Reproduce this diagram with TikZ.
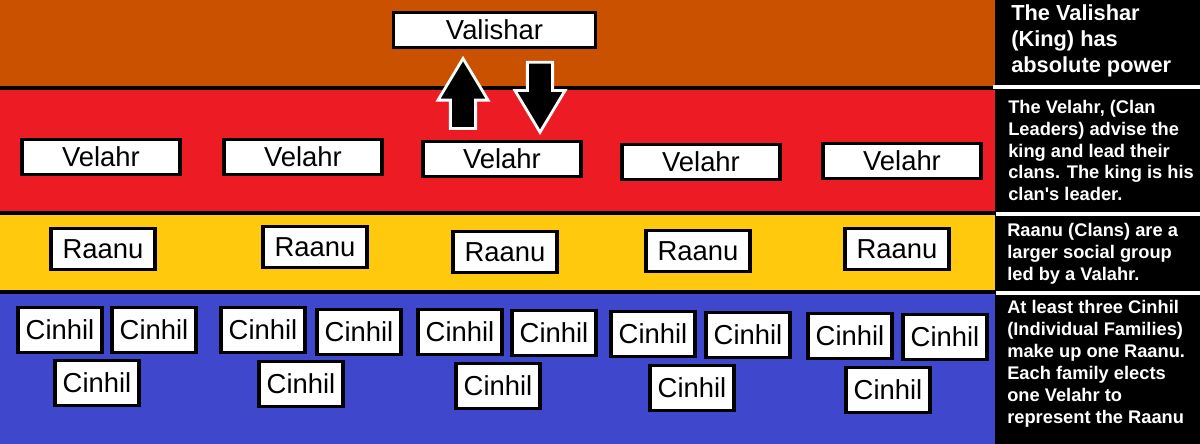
\documentclass[tikz,border=0pt]{standalone}
\usepackage{fontspec}
\setmainfont{Liberation Sans}
\usepackage{tikz}
\usetikzlibrary{shapes.arrows,calc}
\definecolor{kingOrange}{RGB}{201,81,0}
\definecolor{clanRed}{RGB}{237,28,36}
\definecolor{raanuGold}{RGB}{255,201,14}
\definecolor{familyBlue}{RGB}{63,72,204}

\begin{document}
\begin{tikzpicture}[x=0.025cm,y=-0.025cm,
  box/.style={rectangle,draw=black,fill=white,line width=2.2pt,inner sep=0pt,
              font=\fontsize{19.5}{22}\selectfont},
  king/.style={box,minimum width=5.05cm,minimum height=0.875cm},
  leader/.style={box,minimum width=3.95cm,minimum height=0.875cm},
  clan/.style={box,minimum width=2.6cm,minimum height=1.025cm},
  family/.style={box,minimum width=2.1cm,minimum height=1.125cm},
  blk/.style={single arrow,draw=white,fill=black,line width=2pt,inner sep=0.28cm,
              single arrow head extend=0.31cm,single arrow tip angle=62,minimum height=1.75cm},
  note/.style={anchor=west,align=left,text=white,inner sep=0pt,
               font=\bfseries\fontsize{13}{15.6}\selectfont},
  sep/.style={line width=2.2pt}
]
  \useasboundingbox (0,0) rectangle (1200,444);
  % tiers
  \fill[kingOrange] (0,0)   rectangle (996,88);
  \fill[clanRed]    (0,88)  rectangle (996,213);
  \fill[raanuGold]  (0,213) rectangle (996,292);
  \fill[familyBlue] (0,292) rectangle (996,444);
  \draw[sep] (0,88)--(996,88);
  \draw[sep] (0,213)--(996,213);
  \draw[sep] (0,292)--(996,292);
  % side panel
  \fill[black] (995,0) rectangle (1200,444);
  \draw[sep,white] (993,87)--(1200,87);
  \draw[sep,white] (996,214)--(1200,214);
  \draw[sep,white] (996,293)--(1200,293);

  \node[king]   (vali) at (494.5,30) {Valishar};

  \node[leader] (vel1) at (101,157) {Velahr};
  \node[leader] (vel2) at (303,157) {Velahr};
  \node[leader] (vel3) at (502,159) {Velahr};
  \node[leader] (vel4) at (701,162) {Velahr};
  \node[leader] (vel5) at (902,161) {Velahr};

  \node[clan] (raa1) at (103,249) {Raanu};
  \node[clan] (raa2) at (315,247) {Raanu};
  \node[clan] (raa3) at (505,252) {Raanu};
  \node[clan] (raa4) at (698,251) {Raanu};
  \node[clan] (raa5) at (897,249) {Raanu};

  \node[family] (cin1a) at (60,330)  {Cinhil};
  \node[family] (cin1b) at (154,330) {Cinhil};
  \node[family] (cin1c) at (97,383)  {Cinhil};
  \node[family] (cin2a) at (263,330) {Cinhil};
  \node[family] (cin2b) at (359,332) {Cinhil};
  \node[family] (cin2c) at (301,384) {Cinhil};
  \node[family] (cin3a) at (460,332) {Cinhil};
  \node[family] (cin3b) at (554,333) {Cinhil};
  \node[family] (cin3c) at (498,386) {Cinhil};
  \node[family] (cin4a) at (653,334) {Cinhil};
  \node[family] (cin4b) at (748,335) {Cinhil};
  \node[family] (cin4c) at (692,388) {Cinhil};
  \node[family] (cin5a) at (850,336) {Cinhil};
  \node[family] (cin5b) at (945,337) {Cinhil};
  \node[family] (cin5c) at (888,390) {Cinhil};

  % advise up, rule down
  \node[blk,shape border rotate=90,anchor=tail]  (up)   at ($(vel3.north)+(-39,-10)$) {};
  \node[blk,shape border rotate=270,anchor=tip]  (down) at ($(vel3.north)+(38,-5)$) {};

  \node[note,font=\bfseries\fontsize{15.5}{18.5}\selectfont] (kingnote) at (1011,41)
      {The Valishar\\(King) has\\absolute power};
  \node[note] (velnote) at (1008,150.5)
      {The Velahr, (Clan\\Leaders) advise the\\king and lead their\\clans. The king is his\\clan\textquotesingle s leader.};
  \node[note] (raanote) at (1007,254)
      {Raanu (Clans) are a\\larger social group\\led by a Valahr.};
  \node[note] (cinnote) at (1007,364)
      {At least three Cinhil\\(Individual Families)\\make up one Raanu.\\Each family elects\\one Velahr to\\represent the Raanu};
\end{tikzpicture}
\end{document}
